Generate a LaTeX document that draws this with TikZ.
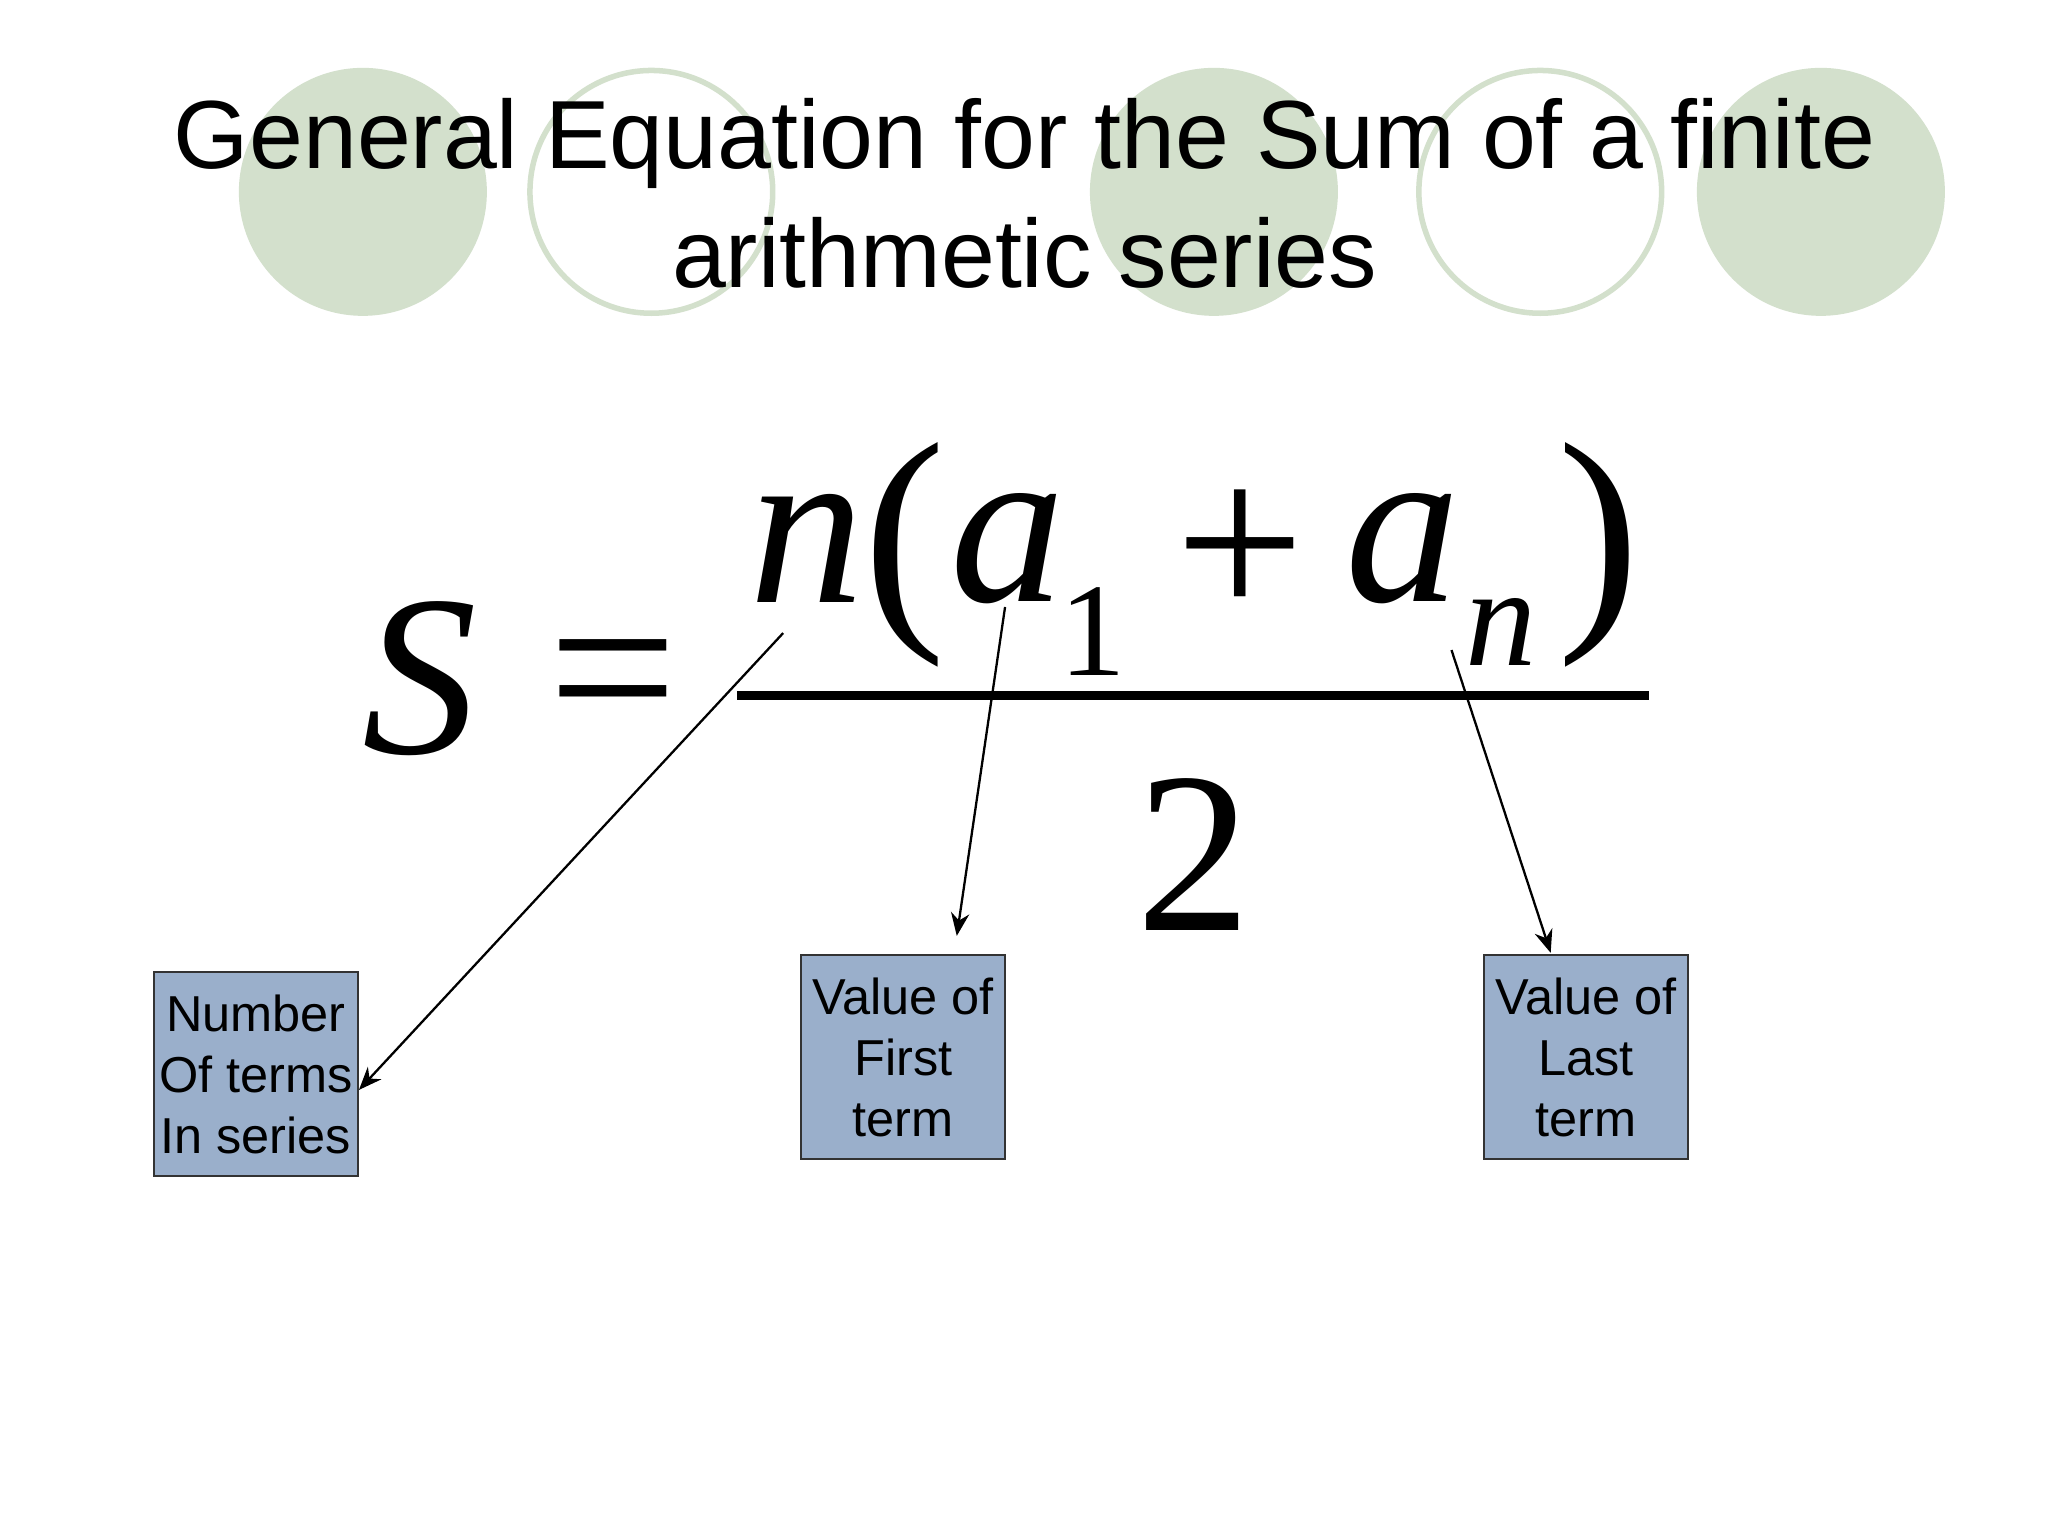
\documentclass[tikz,border=0pt]{standalone}
\usepackage{fontspec}
\setmainfont{Liberation Serif}
\newfontfamily\sansf{Liberation Sans}
\usetikzlibrary{arrows.meta}
\definecolor{cgreen}{HTML}{D3E0CC}
\definecolor{boxblue}{HTML}{9AAFCB}
\begin{document}
\begin{tikzpicture}[x=0.01cm,y=-0.01cm,
  fcirc/.style={fill=cgreen,draw=none},
  ocirc/.style={draw=cgreen,line width=1.2pt},
  lbl/.style={draw=black!80,fill=boxblue,minimum width=1.56cm,minimum height=1.56cm,inner sep=0pt,align=center,font=\sansf\fontsize{11}{13.3}\selectfont},
  big/.style={inner sep=0pt,font=\fontsize{50}{60}\selectfont},
  arr/.style={-{Stealth[length=5pt,width=4pt]},line width=0.5pt}]
\useasboundingbox (0,0) rectangle (1569,1177);
\fill[white] (0,0) rectangle (1569,1177);
\fill[fcirc] (278,147) circle (95);
\draw[ocirc] (499,147) circle (93);
\fill[fcirc] (930,147) circle (95);
\draw[ocirc] (1180,147) circle (93);
\fill[fcirc] (1395,147) circle (95);
\node[align=center,font=\sansf\fontsize{21.1}{26}\selectfont] (title) at (785,148) {General Equation for the Sum of a finite\\arithmetic series};
\node[big,font=\fontsize{50}{60}\selectfont\itshape] (S) at (322,520) {S};
\node[big] (eq) at (470,530) {=};
\node[big,font=\fontsize{50}{60}\selectfont\itshape] (n) at (618,420) {n};
\node[big,font=\fontsize{54}{60}\selectfont] (lp) at (693,425) {(};
\node[big,font=\fontsize{50}{60}\selectfont\itshape] (a1) at (772,420) {a};
\node[big,font=\fontsize{29}{40}\selectfont] (one) at (837,484) {1};
\node[big] (plus) at (950,425) {+};
\node[big,font=\fontsize{50}{60}\selectfont\itshape] (an) at (1075,420) {a};
\node[big,font=\fontsize{31}{40}\selectfont\itshape] (sn) at (1150,484) {n};
\node[big,font=\fontsize{54}{60}\selectfont] (rp) at (1225,425) {)};
\draw[line width=2pt] (565,533) coordinate (barL) -- (1263,533) coordinate (barR);
\node[big] (two) at (915,655) {2};
\node[lbl] (b1) at (196,823) {Number\\Of terms\\In series};
\node[lbl] (b2) at (692,810) {Value of\\First\\term};
\node[lbl] (b3) at (1215,810) {Value of\\Last\\term};
\coordinate (s1) at (600,485);
\coordinate (s2) at (770,465);
\coordinate (e2) at (733,717);
\coordinate (s3) at (1112,498);
\coordinate (e3) at (1188,730);
\coordinate (e1) at (275,835);
\draw[arr] (s1) -- (e1);
\draw[arr] (s2) -- (e2);
\draw[arr] (s3) -- (e3);
\end{tikzpicture}
\end{document}
